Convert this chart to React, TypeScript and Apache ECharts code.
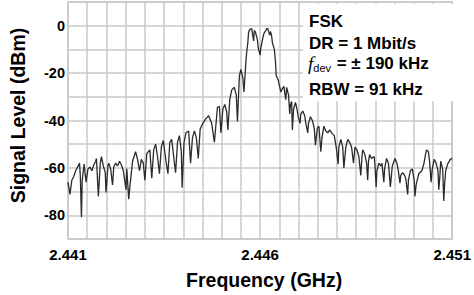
import React, { useEffect, useRef } from "react";
import * as echarts from "echarts";

// Frequency in MHz (axis labels shown in GHz)
const freqMHz: number[] = [
  2441.00, 2441.05, 2441.10, 2441.15, 2441.20, 2441.25, 2441.30, 2441.32, 2441.35, 2441.37,
  2441.42, 2441.47, 2441.52, 2441.57, 2441.62, 2441.67, 2441.72, 2441.74, 2441.79, 2441.84,
  2441.87, 2441.92, 2441.97, 2441.99, 2442.04, 2442.06, 2442.11, 2442.16, 2442.19, 2442.24,
  2442.29, 2442.34, 2442.39, 2442.44, 2442.51, 2442.53, 2442.58, 2442.61, 2442.68, 2442.76,
  2442.81, 2442.86, 2442.91, 2442.96, 2443.00, 2443.05, 2443.13, 2443.18, 2443.23, 2443.28,
  2443.33, 2443.38, 2443.43, 2443.48, 2443.55, 2443.60, 2443.65, 2443.70, 2443.75, 2443.80,
  2443.85, 2443.90, 2443.95, 2443.97, 2444.02, 2444.07, 2444.14, 2444.19, 2444.24, 2444.29,
  2444.34, 2444.39, 2444.44, 2444.51, 2444.59, 2444.66, 2444.74, 2444.81, 2444.89, 2444.94,
  2444.98, 2445.03, 2445.08, 2445.13, 2445.16, 2445.21, 2445.26, 2445.33, 2445.38, 2445.41,
  2445.46, 2445.50, 2445.55, 2445.58, 2445.63, 2445.65, 2445.68, 2445.70, 2445.73, 2445.78,
  2445.80, 2445.83, 2445.85, 2445.88, 2445.93, 2445.95, 2446.00, 2446.02, 2446.07, 2446.10,
  2446.15, 2446.17, 2446.20, 2446.22, 2446.25, 2446.27, 2446.30, 2446.32, 2446.37, 2446.40,
  2446.42, 2446.47, 2446.49, 2446.54, 2446.57, 2446.62, 2446.64, 2446.67, 2446.69, 2446.74,
  2446.77, 2446.79, 2446.82, 2446.84, 2446.87, 2446.92, 2446.96, 2446.99, 2447.04, 2447.06,
  2447.11, 2447.16, 2447.19, 2447.24, 2447.26, 2447.31, 2447.36, 2447.41, 2447.44, 2447.49,
  2447.53, 2447.58, 2447.61, 2447.66, 2447.71, 2447.76, 2447.81, 2447.86, 2447.93, 2447.98,
  2448.03, 2448.05, 2448.10, 2448.15, 2448.18, 2448.23, 2448.28, 2448.33, 2448.38, 2448.43,
  2448.47, 2448.52, 2448.57, 2448.62, 2448.65, 2448.67, 2448.72, 2448.77, 2448.80, 2448.82,
  2448.85, 2448.90, 2448.97, 2448.99, 2449.02, 2449.04, 2449.09, 2449.14, 2449.17, 2449.22,
  2449.24, 2449.29, 2449.34, 2449.39, 2449.44, 2449.51, 2449.56, 2449.59, 2449.64, 2449.66,
  2449.71, 2449.76, 2449.79, 2449.84, 2449.86, 2449.91, 2449.96, 2450.01, 2450.03, 2450.06,
  2450.13, 2450.21, 2450.26, 2450.31, 2450.33, 2450.38, 2450.41, 2450.45, 2450.48, 2450.53,
  2450.58, 2450.63, 2450.65, 2450.68, 2450.70, 2450.75, 2450.78, 2450.80, 2450.83, 2450.88,
  2450.95, 2451.00,
];

// Signal level in dBm
const levelDBm: number[] = [
  -66.0, -71.2, -65.2, -63.6, -61.2, -59.6, -58.0, -63.2, -80.8, -65.2,
  -58.4, -66.0, -60.4, -59.6, -61.2, -58.8, -57.2, -56.0, -72.0, -58.0,
  -55.2, -59.2, -62.0, -70.4, -59.2, -58.0, -60.4, -67.2, -59.6, -58.0,
  -59.2, -57.2, -58.8, -61.2, -69.2, -60.4, -73.2, -68.0, -57.2, -53.2,
  -56.4, -61.2, -56.4, -58.0, -65.2, -54.0, -52.4, -64.4, -52.4, -50.0,
  -55.2, -62.4, -51.2, -48.4, -57.2, -62.4, -49.2, -48.0, -55.2, -62.0,
  -49.2, -46.4, -53.2, -68.4, -49.2, -45.2, -44.4, -58.0, -47.2, -44.4,
  -47.2, -56.0, -43.6, -41.2, -39.2, -38.0, -41.2, -49.2, -34.4, -34.0,
  -45.2, -35.2, -33.2, -36.4, -44.0, -31.2, -27.2, -26.0, -29.2, -40.4,
  -21.2, -18.4, -22.0, -28.0, -15.2, -11.2, -7.2, -2.8, -1.6, -1.2,
  -3.2, -6.4, -2.0, -2.8, -6.0, -9.2, -12.4, -9.2, -5.2, -3.2,
  -2.0, -1.2, -1.2, -2.4, -4.0, -2.4, -4.4, -7.2, -10.0, -15.2,
  -21.2, -22.8, -24.4, -28.0, -26.8, -25.6, -28.4, -31.2, -26.0, -29.2,
  -37.2, -33.2, -32.0, -44.0, -35.2, -32.4, -35.2, -38.4, -41.2, -37.2,
  -36.0, -38.0, -41.2, -45.2, -41.2, -38.4, -40.0, -43.2, -50.4, -43.2,
  -42.4, -53.2, -47.2, -42.4, -44.4, -45.2, -44.0, -45.2, -46.4, -51.2,
  -58.4, -51.2, -48.0, -51.2, -60.0, -51.2, -48.0, -49.2, -51.2, -58.0,
  -51.2, -52.4, -55.2, -63.2, -55.2, -52.4, -54.0, -58.0, -65.2, -57.2,
  -54.4, -56.0, -55.2, -59.2, -68.0, -61.2, -58.0, -59.2, -58.0, -66.0,
  -60.4, -56.0, -58.0, -68.0, -59.2, -56.0, -58.0, -60.4, -66.4, -63.2,
  -62.0, -63.2, -64.4, -71.2, -65.2, -61.2, -60.4, -65.2, -72.0, -67.2,
  -62.4, -61.2, -58.4, -54.0, -52.4, -53.2, -57.2, -66.0, -60.4, -56.4,
  -58.0, -61.2, -69.2, -63.2, -57.2, -60.4, -74.0, -67.2, -61.2, -58.4,
  -56.4, -56.0,
];

const xLabelTicksMHz: number[] = [2441, 2446, 2451];
const yLabelTicks: number[] = [0, -20, -40, -60, -80];
const annotationLines: string[] = ["FSK", "DR = 1 Mbit/s", "= ± 190 kHz", "RBW = 91 kHz"];

export default function App() {
  const ref = useRef<HTMLDivElement>(null);
  useEffect(() => {
    if (!ref.current) return;
    const chart = echarts.init(ref.current, undefined, { renderer: "svg" });
    const font = "'Liberation Sans', Arial, sans-serif";
    const gridColor = "#c8c8c8";
    const annFont = `bold 17px ${font}`;
    chart.setOption({
      animation: false,
      backgroundColor: "#ffffff",
      grid: {
        left: 53,
        right: 17,
        top: 2,
        bottom: 42,
        show: true,
        borderColor: gridColor,
        borderWidth: 1.5,
      },
      xAxis: {
        type: "value",
        min: 2441,
        max: 2451,
        interval: 0.5,
        name: "Frequency (GHz)",
        nameLocation: "middle",
        nameGap: 31,
        nameTextStyle: { fontFamily: font, fontWeight: "bold", fontSize: 19.5, color: "#000", padding: [0, 0, 0, 8] },
        axisLine: { show: false },
        axisTick: { show: false },
        splitLine: { show: true, lineStyle: { color: gridColor, width: 1.5 } },
        axisLabel: {
          fontFamily: font,
          fontWeight: "bold",
          fontSize: 15,
          color: "#000",
          margin: 8,
          showMinLabel: true,
          showMaxLabel: true,
          formatter: (v: number) =>
            xLabelTicksMHz.some((t) => Math.abs(t - v) < 1e-6) ? (v / 1000).toFixed(3) : "",
        },
      },
      yAxis: {
        type: "value",
        min: -90,
        max: 10,
        interval: 10,
        name: "Signal Level (dBm)",
        nameLocation: "middle",
        nameGap: 40,
        nameRotate: 90,
        nameTextStyle: { fontFamily: font, fontWeight: "bold", fontSize: 19.5, color: "#000", padding: [0, 0, 0, 10] },
        axisLine: { show: false },
        axisTick: { show: false },
        splitLine: { show: true, lineStyle: { color: gridColor, width: 1.5 } },
        axisLabel: {
          fontFamily: font,
          fontWeight: "bold",
          fontSize: 14.5,
          color: "#000",
          margin: 3,
          formatter: (v: number) =>
            yLabelTicks.some((t) => Math.abs(t - v) < 1e-6) ? String(v) : "",
        },
      },
      series: [
        {
          type: "line",
          data: freqMHz.map((f, i) => [f, levelDBm[i]]),
          showSymbol: false,
          symbol: "none",
          lineStyle: { color: "#2a2a2a", width: 1.3 },
          z: 3,
        },
      ],
      graphic: [
        {
          type: "rect",
          shape: { x: 303, y: 4, width: 152, height: 97 },
          style: { fill: "#ffffff" },
          z: 10,
        },
        {
          type: "text",
          x: 309,
          y: 13,
          z: 11,
          style: { text: annotationLines[0], font: annFont, fill: "#000", verticalAlign: "top" },
        },
        {
          type: "text",
          x: 309,
          y: 35,
          z: 11,
          style: { text: annotationLines[1], font: annFont, fill: "#000", verticalAlign: "top" },
        },
        {
          type: "text",
          x: 308,
          y: 54,
          z: 11,
          style: {
            text: "{f|f}{s|dev}{n| " + annotationLines[2] + "}",
            verticalAlign: "top",
            rich: {
              f: { fontFamily: "'Liberation Serif', 'DejaVu Serif', serif", fontStyle: "italic", fontSize: 19, fill: "#000", verticalAlign: "middle" },
              s: { fontFamily: font, fontSize: 11, fill: "#000", verticalAlign: "bottom", padding: [7, 1, 0, 0] },
              n: { fontFamily: font, fontWeight: "bold", fontSize: 17, fill: "#000", verticalAlign: "middle" },
            },
          },
        },
        {
          type: "text",
          x: 309,
          y: 81,
          z: 11,
          style: { text: annotationLines[3], font: annFont, fill: "#000", verticalAlign: "top" },
        },
      ],
    });
    return () => chart.dispose();
  }, []);
  return <div ref={ref} style={{ width: 474, height: 295, position: "absolute", left: 0, top: 0 }} />;
}
